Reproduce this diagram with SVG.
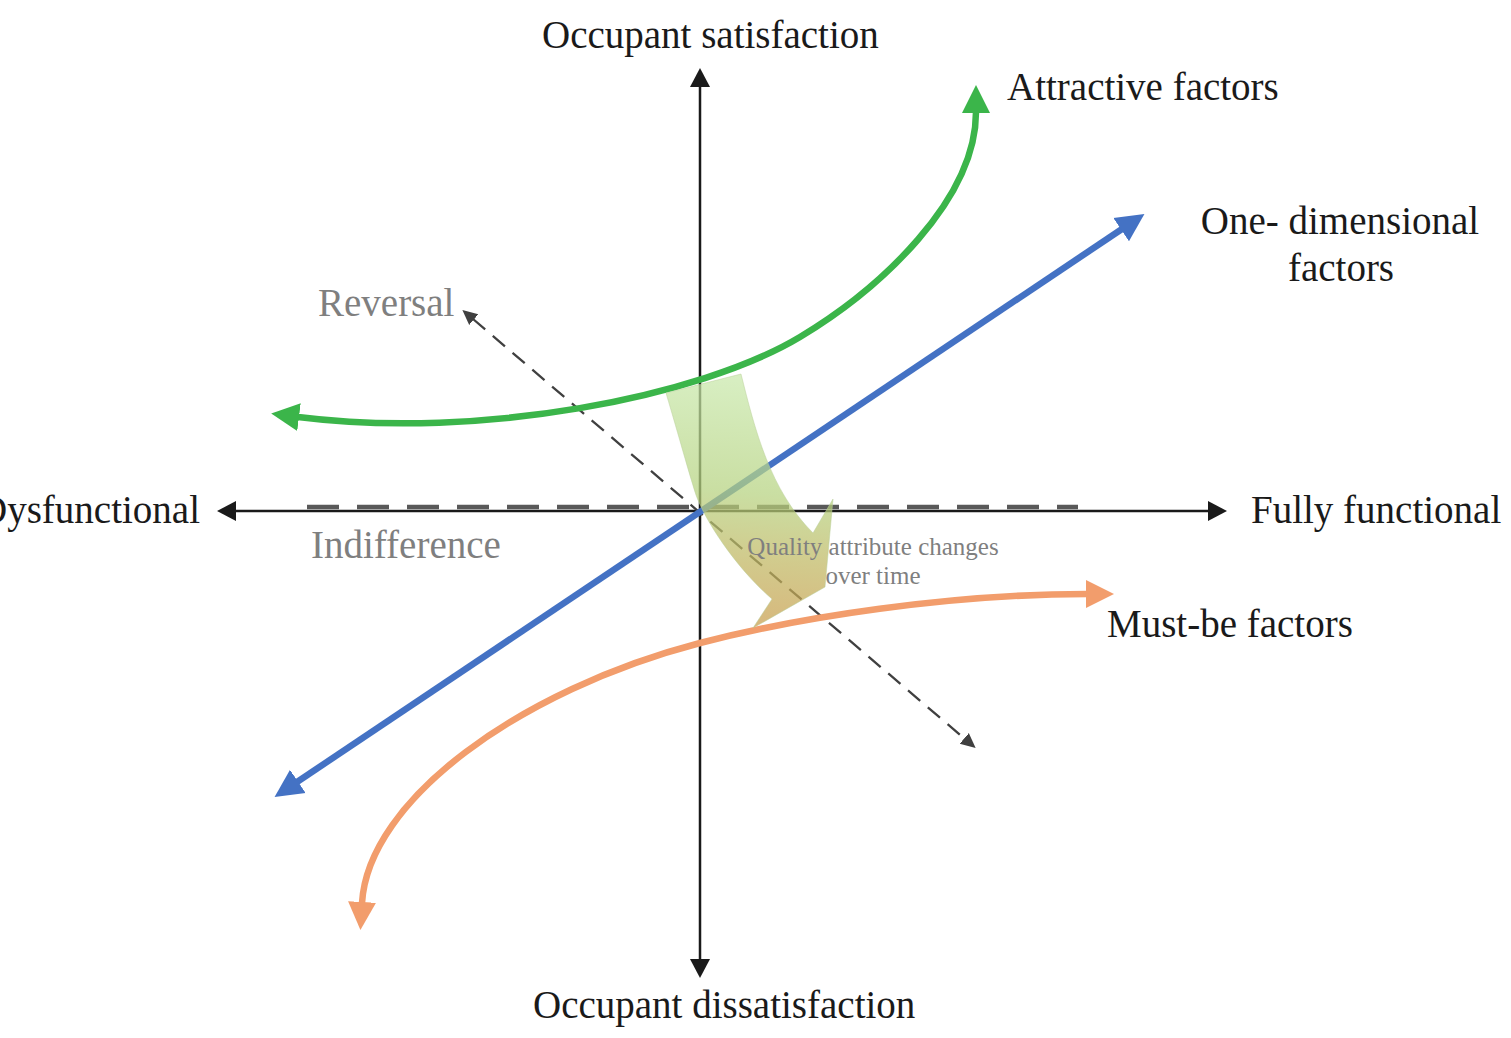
<svg xmlns="http://www.w3.org/2000/svg" width="1511" height="1038" viewBox="0 0 1511 1038">
<style>
  .lbl { font-family: "Liberation Serif", "Times New Roman", serif; font-size: 39px; fill: #1a1a1a; }
  .grey { fill: #7f7f7f; }
  .small { font-family: "Liberation Serif", "Times New Roman", serif; font-size: 25px; fill: #7f7f7f; }
  .axis { fill: none; stroke: #1a1a1a; stroke-width: 2.5; }
  .curve { fill: none; stroke-width: 6.5; }
</style>
<defs>
  <marker id="axHead" markerUnits="userSpaceOnUse" markerWidth="20" markerHeight="22" viewBox="0 -11 20 22" refX="0" refY="0" orient="auto-start-reverse">
    <path d="M0,-10 L19,0 L0,10 Z" fill="#1a1a1a"/>
  </marker>
  <marker id="greenHead" markerUnits="userSpaceOnUse" markerWidth="30" markerHeight="30" viewBox="0 -15 30 30" refX="1" refY="0" orient="auto-start-reverse">
    <path d="M0,-14 L28,0 L0,14 Z" fill="#3bb54a"/>
  </marker>
  <marker id="blueHead" markerUnits="userSpaceOnUse" markerWidth="30" markerHeight="30" viewBox="0 -15 30 30" refX="1" refY="0" orient="auto-start-reverse">
    <path d="M0,-14 L28,0 L0,14 Z" fill="#4472c4"/>
  </marker>
  <marker id="orangeHead" markerUnits="userSpaceOnUse" markerWidth="30" markerHeight="30" viewBox="0 -15 30 30" refX="1" refY="0" orient="auto-start-reverse">
    <path d="M0,-14 L28,0 L0,14 Z" fill="#f29d6c"/>
  </marker>
  <marker id="dashHead" markerUnits="userSpaceOnUse" markerWidth="16" markerHeight="16" viewBox="0 -8 16 16" refX="1" refY="0" orient="auto-start-reverse">
    <path d="M0,-7 L15,0 L0,7 Z" fill="#404040"/>
  </marker>
  <linearGradient id="bigGrad" gradientUnits="userSpaceOnUse" x1="760" y1="380" x2="740" y2="630">
    <stop offset="0" stop-color="#c8e8aa"/>
    <stop offset="0.45" stop-color="#b5d27f"/>
    <stop offset="0.72" stop-color="#c0b660"/>
    <stop offset="1" stop-color="#c89a48"/>
  </linearGradient>
</defs>

<g id="connectors">
  <g id="axis-horizontal">
    <path class="axis" d="M236,511 L1208,511" marker-start="url(#axHead)" marker-end="url(#axHead)"/>
  </g>
  <g id="axis-vertical">
    <path class="axis" d="M700,87 L700,959" marker-start="url(#axHead)" marker-end="url(#axHead)"/>
  </g>
  <g id="indifference-line">
    <path d="M307,507 L1078,507" fill="none" stroke="#595959" stroke-width="4.5" stroke-dasharray="32 18"/>
  </g>
  <g id="reversal-line">
    <path d="M473,319 L965,739" fill="none" stroke="#404040" stroke-width="2.3" stroke-dasharray="16 10" marker-start="url(#dashHead)" marker-end="url(#dashHead)"/>
  </g>
  <g id="one-dimensional-line">
    <path class="curve" d="M297,782 L1122,229" stroke="#4472c4" marker-start="url(#blueHead)" marker-end="url(#blueHead)"/>
  </g>
  <g id="attractive-curve">
    <path class="curve" d="M298,417 C480,440 700,397 800,337 C880,289 976,200 976,112" stroke="#3bb54a" marker-start="url(#greenHead)" marker-end="url(#greenHead)"/>
  </g>
  <g id="must-be-curve">
    <path class="curve" d="M362,903 C368,800 520,690 700,643 C800,617 950,594 1087,594" stroke="#f29d6c" marker-start="url(#orangeHead)" marker-end="url(#orangeHead)"/>
  </g>
  <g id="change-arrow">
    <path d="M666,393 L741,374 C755,430 770,490 813,533 L833,499 L825,587 L753,628 L772,599 C735,567 705,520 696,495 C688,470 680,440 666,393 Z" fill="url(#bigGrad)" fill-opacity="0.72" stroke="#b9cf9a" stroke-opacity="0.5" stroke-width="1"/>
  </g>
</g>

<g id="label-occupant-satisfaction"><text class="lbl" x="542" y="48">Occupant satisfaction</text></g>
<g id="label-occupant-dissatisfaction"><text class="lbl" x="533" y="1018">Occupant dissatisfaction</text></g>
<g id="label-dysfunctional"><text class="lbl" x="200" y="523" text-anchor="end">Dysfunctional</text></g>
<g id="label-fully-functional"><text class="lbl" x="1251" y="523">Fully functional</text></g>
<g id="label-attractive"><text class="lbl" x="1007" y="100">Attractive factors</text></g>
<g id="label-one-dimensional">
  <text class="lbl" x="1340" y="234" text-anchor="middle">One- dimensional</text>
  <text class="lbl" x="1341" y="281" text-anchor="middle">factors</text>
</g>
<g id="label-must-be"><text class="lbl" x="1107" y="637">Must-be factors</text></g>
<g id="label-reversal"><text class="lbl grey" x="318" y="316">Reversal</text></g>
<g id="label-indifference"><text class="lbl grey" x="311" y="558">Indifference</text></g>
<g id="label-change">
  <text class="small" x="873" y="555" text-anchor="middle">Quality attribute changes</text>
  <text class="small" x="873" y="584" text-anchor="middle">over time</text>
</g>
</svg>
